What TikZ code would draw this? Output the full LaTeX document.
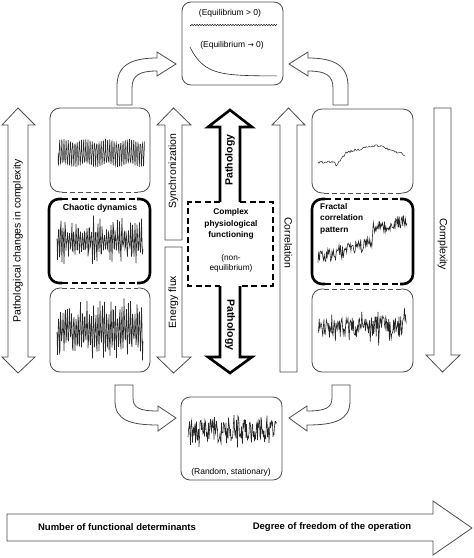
\documentclass[tikz,border=0pt]{standalone}
\usepackage{fontspec}
\setmainfont{Liberation Sans}
\newfontfamily\dejavu{DejaVu Sans}
\begin{document}
\begin{tikzpicture}[x=1pt,y=-1pt,
  outl/.style={draw=black!70, line width=0.8pt, fill=white},
  thinl/.style={draw=black!70, line width=0.8pt},
  thickl/.style={draw=black, line width=2.6pt},
  thickdash/.style={draw=black, line width=2.6pt, dash pattern=on 6pt off 3.5pt},
  thindash/.style={draw=black!70, line width=0.8pt, dash pattern=on 5pt off 3pt},
  sig/.style={draw=black!85, line width=0.6pt},
  lbl/.style={font=\fontsize{10.5}{12}\selectfont, inner sep=0pt},
  blbl/.style={font=\bfseries\fontsize{10.5}{12}\selectfont, inner sep=0pt},
  slbl/.style={font=\fontsize{8.5}{10}\selectfont, inner sep=0pt},
  sblbl/.style={font=\bfseries\fontsize{8.3}{11.5}\selectfont, inner sep=0pt, align=center},
  mblbl/.style={font=\bfseries\fontsize{9.5}{11}\selectfont, inner sep=0pt}
]
\useasboundingbox (0,0) rectangle (474,558);

% ---------- top equilibrium box ----------
\node[draw=black!70, line width=0.8pt, rounded corners=9pt, minimum width=101pt, minimum height=83pt, inner sep=0pt] (eqbox) at (232.5,43.5) {};
\node[slbl] (eqpos) at (230,13) {(Equilibrium > 0)};
\node[slbl] (eqzero) at (232,45) {(Equilibrium {\dejavu\fontsize{7.5}{8}\selectfont →} 0)};
\draw[sig, line width=0.45pt] plot[domain=0:174, samples=175] ({190+\x/2}, {25+0.8*sin(\x*70)});
\draw[sig] plot[domain=190:277, samples=90] (\x, {76-29*exp(-(\x-190)/14)});

% ---------- curved block arrows ----------
\draw[outl] (117,105) -- (117,86) .. controls (117,66) and (130,58) .. (157,58) -- (157,52) -- (176,64) -- (157,76) -- (157,71) .. controls (140,71) and (132,75) .. (132,88) -- (132,105) -- cycle;
\draw[outl] (348,105) -- (348,86) .. controls (348,66) and (335,58) .. (308,58) -- (308,52) -- (289,64) -- (308,76) -- (308,71) .. controls (325,71) and (333,75) .. (333,88) -- (333,105) -- cycle;
\draw[outl] (115,385) -- (115,401) .. controls (115,420) and (130,425) .. (158,425) -- (158,431) -- (176,418) -- (158,406) -- (158,411) .. controls (140,411) and (133,408) .. (133,398) -- (133,385) -- cycle;
\draw[outl] (350,385) -- (350,401) .. controls (350,420) and (335,425) .. (307,425) -- (307,431) -- (289,418) -- (307,406) -- (307,411) .. controls (325,411) and (332,408) .. (332,398) -- (332,385) -- cycle;

% ---------- straight block arrows ----------
\draw[outl] (18,108) -- (35,125) -- (28,125) -- (28,357) -- (35,357) -- (18,373) -- (2,357) -- (8,357) -- (8,125) -- (2,125) -- cycle;
\node[lbl, rotate=90] (pcc) at (18,241) {Pathological changes in complexity};

\draw[outl] (173.5,108) -- (191,125) -- (182,125) -- (182,240) -- (165,240) -- (165,125) -- (157,125) -- cycle;
\node[lbl, rotate=90] (sync) at (173.5,171) {Synchronization};

\draw[outl] (165,247) -- (182,247) -- (182,357) -- (191,357) -- (173.5,373) -- (157,357) -- (165,357) -- cycle;
\node[lbl, rotate=90] (eflux) at (173.5,302) {Energy flux};

\draw[outl] (288.5,108) -- (305,125) -- (297,125) -- (297,372) -- (280,372) -- (280,125) -- (272,125) -- cycle;
\node[lbl, rotate=-90] (corr) at (288.5,243) {Correlation};

\draw[outl] (434,108) -- (451,108) -- (451,355) -- (460,355) -- (442.5,372) -- (426,355) -- (434,355) -- cycle;
\node[lbl, rotate=-90] (cplx) at (442.5,244) {Complexity};

% ---------- central box and pathology arrows ----------
\node[minimum width=85pt, minimum height=84pt, inner sep=0pt] (cbox) at (230.5,244) {};
\draw[thickdash] (220,202) -- (188,202) -- (188,286) -- (220,286);
\draw[thickdash] (240,202) -- (273,202) -- (273,286) -- (240,286);
\draw[thickl] (220,202) -- (220,127) -- (208,127) -- (230,110) -- (252,127) -- (240,127) -- (240,202);
\draw[thickl] (220,286) -- (220,357) -- (208,357) -- (230,373) -- (252,357) -- (240,357) -- (240,286);
\node[blbl, rotate=90] (pathup) at (230,160) {Pathology};
\node[blbl, rotate=-90] (pathdown) at (230,325) {Pathology};
\node[sblbl] (cpf) at (231,224) {Complex\\physiological\\functioning};
\node[slbl, align=center, font=\fontsize{8.3}{10}\selectfont] (noneq) at (231,263) {(non-\\equilibrium)};

% ---------- left panels ----------
\draw[thinl, rounded corners=10pt] (62,192) -- (50,192) -- (50,108) -- (150,108) -- (150,192) -- (138,192);
\draw[thindash] (62,192) -- (138,192);
\draw[thickl, rounded corners=10pt] (62,199) -- (49,199) -- (49,283) -- (62,283);
\draw[thickl, rounded corners=10pt] (137,199) -- (150,199) -- (150,283) -- (137,283);
\draw[thickdash] (62,199) -- (137,199);
\draw[thickdash] (62,283) -- (137,283);
\draw[thinl, rounded corners=10pt] (62,288) -- (50,288) -- (50,372) -- (150,372) -- (150,288) -- (138,288);
\draw[thindash] (62,288) -- (138,288);
\node[sblbl, font=\bfseries\fontsize{8.7}{10}\selectfont] (chaos) at (100,208) {Chaotic dynamics};

\pgfmathsetseed{7}
\draw[sig, line width=0.5pt] plot[domain=0:348, samples=349] ({58+\x/4}, {153+11.5*sin(\x*41.25)+2.5*sin(2*mod(\x*43.3,180))});
\draw[sig] plot[domain=0:172, samples=173] ({57+\x/2}, {240+(5+19*rnd)*sin(\x*82.5)+3*rand});
\draw[sig] plot[domain=0:172, samples=173] ({57+\x/2}, {330+(8+24*rnd)*sin(\x*82.5)+4*rand});

% ---------- right panels ----------
\draw[thinl, rounded corners=10pt] (324,193) -- (312,193) -- (312,109) -- (413,109) -- (413,193) -- (401,193);
\draw[thindash] (324,193) -- (401,193);
\draw[thickl, rounded corners=10pt] (325,199) -- (312,199) -- (312,284) -- (325,284);
\draw[thickl, rounded corners=10pt] (400,199) -- (413,199) -- (413,284) -- (400,284);
\draw[thickdash] (325,199) -- (400,199);
\draw[thickdash] (325,284) -- (400,284);
\draw[thinl, rounded corners=10pt] (324,289) -- (312,289) -- (312,372) -- (413,372) -- (413,289) -- (401,289);
\draw[thindash] (324,289) -- (401,289);
\node[sblbl, align=left, anchor=north west] (fractal) at (320,203) {Fractal\\correlation\\pattern};

\draw[sig, line width=0.5pt] plot[domain=0:87, samples=88] ({318+\x}, {((318+\x)<336 ? 162.5 : ((318+\x)<347 ? (165-1.2*(\x-18)) : ((318+\x)<377 ? (152-0.23*(\x-29)) : (145+0.35*(\x-59)))))+1.3*rand});
\draw[sig] plot[domain=0:127, samples=128] ({318+0.7*\x}, {((318+0.7*\x)<372 ? (258-0.28*0.7*\x) : (228-0.2*(0.7*\x-54)))+7*rand});
\draw[sig] plot[domain=0:147, samples=148] ({318+0.6*\x}, {327+11*rand+18*rand*rand*rand});

% ---------- bottom box ----------
\node[draw=black!70, line width=0.8pt, rounded corners=9pt, minimum width=101pt, minimum height=83pt, inner sep=0pt] (rndbox) at (231.5,438.5) {};
\draw[sig] plot[domain=0:177, samples=178] ({188+0.5*\x}, {431+12*rand+16*rand*rand*rand});
\node[slbl] (rnd) at (231,472) {(Random, stationary)};

% ---------- bottom arrow ----------
\draw[outl] (7,514) -- (433,514) -- (433,501) -- (472,528) -- (433,555) -- (433,541) -- (7,541) -- cycle;
\node[mblbl] (nfd) at (117,527.5) {Number of functional determinants};
\node[mblbl] (dfo) at (332,527.5) {Degree of freedom of the operation};
\end{tikzpicture}
\end{document}
